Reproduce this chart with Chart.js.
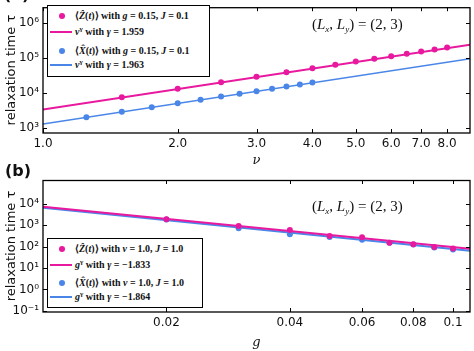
<!DOCTYPE html>
<html>
<head>
<meta charset="utf-8">
<script src="https://cdn.jsdelivr.net/npm/chart.js@4.4.0/dist/chart.umd.min.js"></script>
<style>
  body { margin: 0; background: #fff; width: 474px; height: 351px; position: relative; overflow: hidden; }
  canvas { position: absolute; left: 0; }
  #cA { top: 0; }
  #cB { top: 170px; }
  .lg { position: absolute; background: #fff; border: 1px solid #000; font-family: "Liberation Serif", serif; font-weight: bold; font-size: 10px; color: #111; }
  .row { position: absolute; left: 0; height: 14px; line-height: 14px; white-space: nowrap; }
  .dot { position: absolute; width: 6px; height: 6px; border-radius: 50%; top: 4px; left: 11px; }
  .seg { position: absolute; width: 22px; height: 2px; top: 6px; left: 2px; }
  .txt { position: absolute; left: 27px; top: 0; }
  .pink { background: #e8199e; }
  .blue { background: #4a86e8; }
  sup { font-size: 7px; vertical-align: 4px; line-height: 0; }
  sub { font-size: 9px; vertical-align: -3px; line-height: 0; font-style: italic; }
  .note { position: absolute; font-family: "Liberation Serif", serif; font-size: 15px; color: #111; white-space: nowrap; }
  .tag { position: absolute; font-family: "DejaVu Sans", sans-serif; font-weight: bold; font-size: 16px; color: #111; }
</style>
</head>
<body>
<canvas id="cA" width="474" height="170"></canvas>
<canvas id="cB" width="474" height="181"></canvas>

<div class="tag" style="left:4px; top:-15px;">(a)</div>
<div class="tag" style="left:5px; top:161px;">(b)</div>

<div class="note" style="left:312px; top:16px;">(<i>L</i><sub>x</sub>, <i>L</i><sub>y</sub>) = (2, 3)</div>
<div class="note" style="left:312px; top:198px;">(<i>L</i><sub>x</sub>, <i>L</i><sub>y</sub>) = (2, 3)</div>

<div class="lg" style="left:47px; top:5px; width:161px; height:70px;">
  <div class="row" style="top:3px;"><span class="dot pink"></span><span class="txt">⟨<i>Ẑ</i>(<i>t</i>)⟩ with <i>g</i> = 0.15, <i>J</i> = 0.1</span></div>
  <div class="row" style="top:19px;"><span class="seg pink"></span><span class="txt"><i>ν</i><sup>γ</sup> with <i>γ</i> = 1.959</span></div>
  <div class="row" style="top:38px;"><span class="dot blue"></span><span class="txt">⟨<i>X̂</i>(<i>t</i>)⟩ with <i>g</i> = 0.15, <i>J</i> = 0.1</span></div>
  <div class="row" style="top:52px;"><span class="seg blue"></span><span class="txt"><i>ν</i><sup>γ</sup> with <i>γ</i> = 1.963</span></div>
</div>

<div class="lg" style="left:47px; top:238px; width:154px; height:68px;">
  <div class="row" style="top:3px;"><span class="dot pink"></span><span class="txt">⟨<i>Ẑ</i>(<i>t</i>)⟩ with <i>ν</i> = 1.0, <i>J</i> = 1.0</span></div>
  <div class="row" style="top:19px;"><span class="seg pink"></span><span class="txt"><i>g</i><sup>γ</sup> with <i>γ</i> = −1.833</span></div>
  <div class="row" style="top:37px;"><span class="dot blue"></span><span class="txt">⟨<i>X̂</i>(<i>t</i>)⟩ with <i>ν</i> = 1.0, <i>J</i> = 1.0</span></div>
  <div class="row" style="top:51px;"><span class="seg blue"></span><span class="txt"><i>g</i><sup>γ</sup> with <i>γ</i> = −1.864</span></div>
</div>

<script>
// (a) relaxation time vs nu
const nuPink = [1.5, 2, 2.5, 3, 3.5, 4, 4.5, 5, 5.5, 6, 6.5, 7, 7.5, 8];
const tauPinkNu = [7640, 13400, 20800, 29700, 40200, 52200, 65700, 80700, 97300, 115000, 134600, 156000, 178000, 202000];
const nuBlue = [1.25, 1.5, 1.75, 2, 2.25, 2.5, 2.75, 3, 3.25, 3.5, 3.75, 4];
const tauBlueNu = [2060, 2950, 3990, 5180, 6530, 8030, 9690, 11490, 13450, 15560, 17810, 20220];
const nuFit = [1, 9];
const tauPinkFitNu = [3450, 245000];
const tauBlueFitNu = [1330, 97000];

// (b) relaxation time vs g
const gVals = [0.02, 0.03, 0.04, 0.05, 0.06, 0.07, 0.08, 0.09, 0.1];
const tauPinkG = [1840, 897, 585, 308, 268, 150, 127, 95, 80];
const tauBlueG = [1800, 703, 369, 277, 207, 150, 124, 90, 72];
const gFit = [0.01, 0.11];
const tauPinkFitG = [7000, 78];
const tauBlueFitG = [6300, 64];

// ticks
const nuTicks = [1, 2, 3, 4, 5, 6, 7, 8];
const nuLabels = ['1.0', '2.0', '3.0', '4.0', '5.0', '6.0', '7.0', '8.0'];
const gTicks = [0.02, 0.03, 0.04, 0.05, 0.06, 0.07, 0.08, 0.09, 0.1];
const gLabels = ['0.02', null, '0.04', null, '0.06', null, '0.08', null, '0.1'];
const tauTicksA = [1e3, 1e4, 1e5, 1e6];
const tauLabelsA = ['10³', '10⁴', '10⁵', '10⁶'];
const tauTicksB = [0.1, 1, 10, 100, 1e3, 1e4];
const tauLabelsB = ['10⁻¹', '10⁰', '10¹', '10²', '10³', '10⁴'];

const PINK = '#e8199e';
const BLUE = '#4a86e8';

const pts = (xs, ys) => xs.map((v, i) => ({x: v, y: ys[i]}));

function logTicks(majors, min, max) {
  var out = [];
  majors.forEach(m => {
    for (var k = 1; k < 10; k++) {
      var v = m * k;
      if (v >= min && v <= max) out.push({value: v});
    }
  });
  var below = majors[0] / 10;
  for (var k = 2; k < 10; k++) {
    if (below * k >= min) out.push({value: below * k});
  }
  return out.sort((a, b) => a.value - b.value);
}

function majorLabel(majors, labels, value) {
  var i = majors.findIndex(m => Math.abs(Math.log10(m) - Math.log10(value)) < 1e-6);
  return i >= 0 ? labels[i] : null;
}

const frameTicks = {
  id: 'frameTicks',
  afterDatasetsDraw(chart) {
    const {ctx, chartArea: a, scales} = chart;
    const x = scales.x, y = scales.y;
    ctx.save();
    ctx.strokeStyle = '#000';
    ctx.lineWidth = 1;
    ctx.beginPath();
    x.ticks.forEach(t => {
      const px = Math.round(x.getPixelForValue(t.value)) + 0.5;
      const len = t.label ? 4 : 2.5;
      ctx.moveTo(px, a.bottom); ctx.lineTo(px, a.bottom - len);
      ctx.moveTo(px, a.top); ctx.lineTo(px, a.top + len);
    });
    y.ticks.forEach(t => {
      const py = Math.round(y.getPixelForValue(t.value)) + 0.5;
      const len = t.label ? 4 : 2;
      ctx.moveTo(a.left, py); ctx.lineTo(a.left + len, py);
      ctx.moveTo(a.right, py); ctx.lineTo(a.right - len, py);
    });
    ctx.stroke();
    ctx.lineWidth = 1.3;
    ctx.strokeRect(a.left, a.top + 0.5, a.right - a.left, a.bottom - a.top - 0.5);
    ctx.restore();
  }
};

const tickFont = {family: 'DejaVu Sans', size: 12};

function makeChart(id, cfg) {
  return new Chart(document.getElementById(id), {
    type: 'line',
    data: {
      datasets: [
        {data: cfg.pinkPts, showLine: false, pointRadius: 3, pointBackgroundColor: PINK, pointBorderWidth: 0, order: 0},
        {data: cfg.pinkFit, borderColor: PINK, borderWidth: 2, pointRadius: 0, order: 1},
        {data: cfg.bluePts, showLine: false, pointRadius: 3, pointBackgroundColor: BLUE, pointBorderWidth: 0, order: 0},
        {data: cfg.blueFit, borderColor: BLUE, borderWidth: cfg.blueWidth, pointRadius: 0, order: 1}
      ]
    },
    options: {
      responsive: false,
      animation: false,
      layout: {padding: {top: cfg.top, right: 4, left: 0, bottom: 0}},
      plugins: {legend: {display: false}, tooltip: {enabled: false}},
      scales: {
        x: {
          type: 'logarithmic',
          min: cfg.xMin, max: cfg.xMax,
          afterBuildTicks: s => { s.ticks = cfg.xTicks.map(v => ({value: v})); },
          afterFit: s => { s.height = cfg.xHeight; },
          grid: {display: false, drawTicks: true, tickLength: 4},
          border: {display: false},
          ticks: {
            padding: 0, autoSkip: false, maxRotation: 0, minRotation: 0, color: '#111', font: tickFont,
            callback: v => cfg.xLabels[cfg.xTicks.indexOf(v)]
          },
          title: {display: true, text: cfg.xTitle, color: '#111', padding: {top: 0, bottom: cfg.xTitlePad},
                  font: {family: 'DejaVu Serif', style: 'italic', size: 13}}
        },
        y: {
          type: 'logarithmic',
          min: cfg.yMin, max: cfg.yMax,
          afterBuildTicks: s => { s.ticks = logTicks(cfg.yMajors, cfg.yMin, cfg.yMax); },
          afterFit: s => { s.width = 43; },
          grid: {display: false, drawTicks: true, tickLength: 4},
          border: {display: false},
          ticks: {
            padding: 0, autoSkip: false, color: '#111', font: tickFont,
            callback: v => majorLabel(cfg.yMajors, cfg.yLabels, v)
          },
          title: {display: true, text: 'relaxation time τ', color: '#111', padding: {top: 4, bottom: 0},
                  font: {family: 'DejaVu Sans', size: 13}}
        }
      }
    },
    plugins: [frameTicks]
  });
}

makeChart('cA', {
  pinkPts: pts(nuPink, tauPinkNu), pinkFit: pts(nuFit, tauPinkFitNu),
  bluePts: pts(nuBlue, tauBlueNu), blueFit: pts(nuFit, tauBlueFitNu), blueWidth: 1.5,
  top: 0, xHeight: 37, xTitlePad: 2,
  xMin: 1, xMax: 9, xTicks: nuTicks, xLabels: nuLabels, xTitle: 'ν',
  yMin: 733, yMax: 2.88e6, yMajors: tauTicksA, yLabels: tauLabelsA
});

makeChart('cB', {
  pinkPts: pts(gVals, tauPinkG), pinkFit: pts(gFit, tauPinkFitG),
  bluePts: pts(gVals, tauBlueG), blueFit: pts(gFit, tauBlueFitG), blueWidth: 2,
  top: 10, xHeight: 39, xTitlePad: 1,
  xMin: 0.01, xMax: 0.11, xTicks: gTicks, xLabels: gLabels, xTitle: 'g',
  yMin: 0.0898, yMax: 1.24e5, yMajors: tauTicksB, yLabels: tauLabelsB
});
</script>
</body>
</html>
